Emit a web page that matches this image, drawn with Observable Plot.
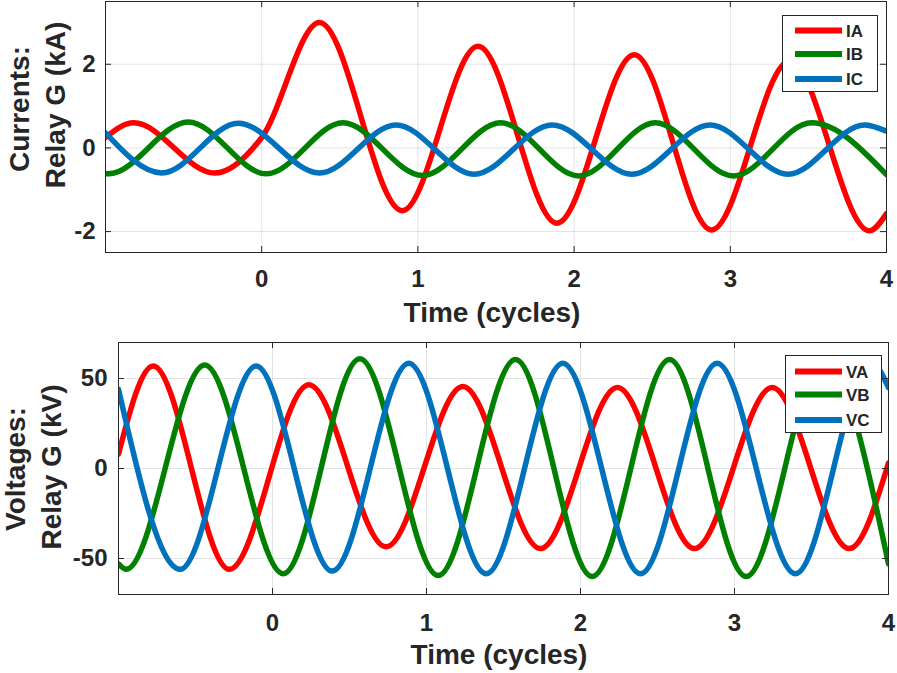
<!DOCTYPE html>
<html>
<head>
<meta charset="utf-8">
<script src="https://cdn.jsdelivr.net/npm/d3@7"></script>
<script src="https://cdn.jsdelivr.net/npm/@observablehq/plot@0.6"></script>
<style>
  body { margin: 0; background: #fff; }
  #wrap { position: relative; width: 897px; height: 673px; overflow: hidden; background: #fff; }
  #wrap > svg { position: absolute; }
</style>
</head>
<body>
<div id="wrap"></div>
<script>
// ---------- data (extrema and end points) ----------
const xDomain = [-1, 4];
const xTicks = [0, 1, 2, 3, 4];
const xTickLabels = ["0", "1", "2", "3", "4"];

const curDomain = [-2.5, 3.5];
const curTicks = [-2, 0, 2];
const curTickLabels = ["-2", "0", "2"];

const volDomain = [-70, 70];
const volTicks = [-50, 0, 50];
const volTickLabels = ["-50", "0", "50"];

const currentNames = ["IA", "IB", "IC"];
const voltageNames = ["VA", "VB", "VC"];
const phaseColors = ["#ff0000", "#008000", "#0072bd"];

// Currents (kA), time in cycles
const iaT = [-1, -0.82, -0.30, 0, 0.37, 0.90, 1.385, 1.89, 2.385, 2.88, 3.38, 3.89, 4];
const iaV = [0.25, 0.60, -0.60, 0.25, 3.00, -1.50, 2.43, -1.80, 2.23, -1.96, 2.08, -1.98, -1.57];
const ibT = [-1, -0.98, -0.47, 0.03, 0.52, 1.03, 1.53, 2.03, 2.52, 3.02, 3.52, 4];
const ibV = [-0.615, -0.62, 0.62, -0.62, 0.60, -0.66, 0.60, -0.67, 0.60, -0.67, 0.60, -0.64];
const icT = [-1, -0.64, -0.15, 0.37, 0.86, 1.36, 1.86, 2.37, 2.87, 3.37, 3.86, 4];
const icV = [0.36, -0.60, 0.59, -0.60, 0.55, -0.63, 0.55, -0.63, 0.55, -0.63, 0.55, 0.40];

// Voltages (kV), time in cycles
const vaT = [-1, -0.775, -0.28, 0.236, 0.738, 1.236, 1.74, 2.24, 2.74, 3.245, 3.745, 4];
const vaV = [8, 57, -56, 46.5, -43.5, 45.5, -44.5, 45, -44.5, 45, -44.5, 3];
const vbT = [-1, -0.95, -0.44, 0.07, 0.567, 1.076, 1.578, 2.076, 2.578, 3.076, 3.578, 4];
const vbV = [-53, -56, 57.5, -58.5, 61, -59.5, 60.5, -60, 60.5, -60, 60.5, -53];
const vcT = [-1, -0.60, -0.106, 0.388, 0.885, 1.388, 1.885, 2.39, 2.887, 3.396, 3.89, 4];
const vcV = [44, -56, 57, -57, 58.5, -58.5, 58.5, -58.5, 58.5, -58.5, 58.5, 45];

// ---------- helpers ----------
const FONT = '"Liberation Sans", Arial, Helvetica, sans-serif';
const INK = "#262626";
const toRows = (ts, vs) => ts.map((t, i) => ({t, v: vs[i]}));

function panel({series, yDomain, yTicks, yTickLabels, width, height, mL, mR, mT, mB, xPad, yPad}) {
  const fw = width - mL - mR, fh = height - mT - mB;
  const tl = 6;
  return Plot.plot({
    width, height,
    marginLeft: mL, marginRight: mR, marginTop: mT, marginBottom: mB,
    style: {fontFamily: FONT, fontSize: "24px", fontWeight: "bold", color: INK, background: "transparent", overflow: "visible"},
    x: {domain: xDomain},
    y: {domain: yDomain},
    marks: [
      Plot.gridX({ticks: xTicks, stroke: INK, strokeOpacity: 0.13}),
      Plot.gridY({ticks: yTicks, stroke: INK, strokeOpacity: 0.13}),
      ...series.map(s => Plot.line(s.rows, {x: "t", y: "v", stroke: s.color, strokeWidth: 5.5, curve: "monotone-x", clip: true})),
      Plot.tickX(xTicks, {insetTop: fh - tl, stroke: INK}),
      Plot.tickX(xTicks, {insetBottom: fh - tl, stroke: INK}),
      Plot.tickY(yTicks, {insetRight: fw - tl, stroke: INK}),
      Plot.tickY(yTicks, {insetLeft: fw - tl, stroke: INK}),
      Plot.frame({stroke: INK}),
      Plot.axisX({ticks: xTicks, tickSize: 0, tickPadding: xPad, label: null,
        tickFormat: d => xTickLabels[xTicks.indexOf(d)]}),
      Plot.axisY({ticks: yTicks, tickSize: 0, tickPadding: yPad, label: null,
        tickFormat: d => yTickLabels[yTicks.indexOf(d)]})
    ]
  });
}

const wrap = document.getElementById("wrap");

const curSeries = [toRows(iaT, iaV), toRows(ibT, ibV), toRows(icT, icV)]
  .map((rows, i) => ({rows, color: phaseColors[i], name: currentNames[i]}));
const volSeries = [toRows(vaT, vaV), toRows(vbT, vbV), toRows(vcT, vcV)]
  .map((rows, i) => ({rows, color: phaseColors[i], name: voltageNames[i]}));

const topPlot = panel({series: curSeries, yDomain: curDomain, yTicks: curTicks, yTickLabels: curTickLabels,
  width: 897, height: 300, mL: 105, mR: 11, mT: 1, mB: 48, xPad: 17, yPad: 10});
topPlot.style.left = "0px"; topPlot.style.top = "0px";
wrap.appendChild(topPlot);

const botPlot = panel({series: volSeries, yDomain: volDomain, yTicks: volTicks, yTickLabels: volTickLabels,
  width: 897, height: 343, mL: 118, mR: 9, mT: 12, mB: 79, xPad: 19, yPad: 11});
botPlot.style.left = "0px"; botPlot.style.top = "330px";
wrap.appendChild(botPlot);

// ---------- overlay: axis titles and legends ----------
const ov = d3.create("svg").attr("width", 897).attr("height", 673)
  .style("left", "0px").style("top", "0px")
  .attr("font-family", FONT).attr("font-weight", "bold").attr("fill", INK);

function yTitle(lines, xs, ys) {
  lines.forEach((txt, i) => {
    ov.append("text").attr("transform", `translate(${xs[i]},${ys[i]}) rotate(-90)`)
      .attr("text-anchor", "middle").attr("font-size", 28).text(txt);
  });
}
yTitle(["Currents:", "Relay G (kA)"], [28.5, 65], [109, 105]);
yTitle(["Voltages:", "Relay G (kV)"], [25, 61], [469, 467]);

ov.append("text").attr("x", 492).attr("y", 322).attr("text-anchor", "middle").attr("font-size", 28).text("Time (cycles)");
ov.append("text").attr("x", 499).attr("y", 664).attr("text-anchor", "middle").attr("font-size", 28).text("Time (cycles)");

function legend(series, bx, by, bw, bh, rows) {
  const g = ov.append("g");
  g.append("rect").attr("x", bx).attr("y", by).attr("width", bw).attr("height", bh)
    .attr("fill", "#fff").attr("stroke", INK).attr("stroke-width", 1);
  series.forEach((s, i) => {
    g.append("line").attr("x1", 795).attr("x2", 842).attr("y1", rows[i]).attr("y2", rows[i])
      .attr("stroke", s.color).attr("stroke-width", 6);
    g.append("text").attr("x", 846).attr("y", rows[i] + 6.3).attr("font-size", 17).text(s.name);
  });
}
legend(curSeries, 782.5, 15.5, 95, 76, [30.5, 54, 79]);
legend(volSeries, 785.5, 355.5, 96, 77, [371.5, 394.5, 420]);

wrap.appendChild(ov.node());
</script>
</body>
</html>
